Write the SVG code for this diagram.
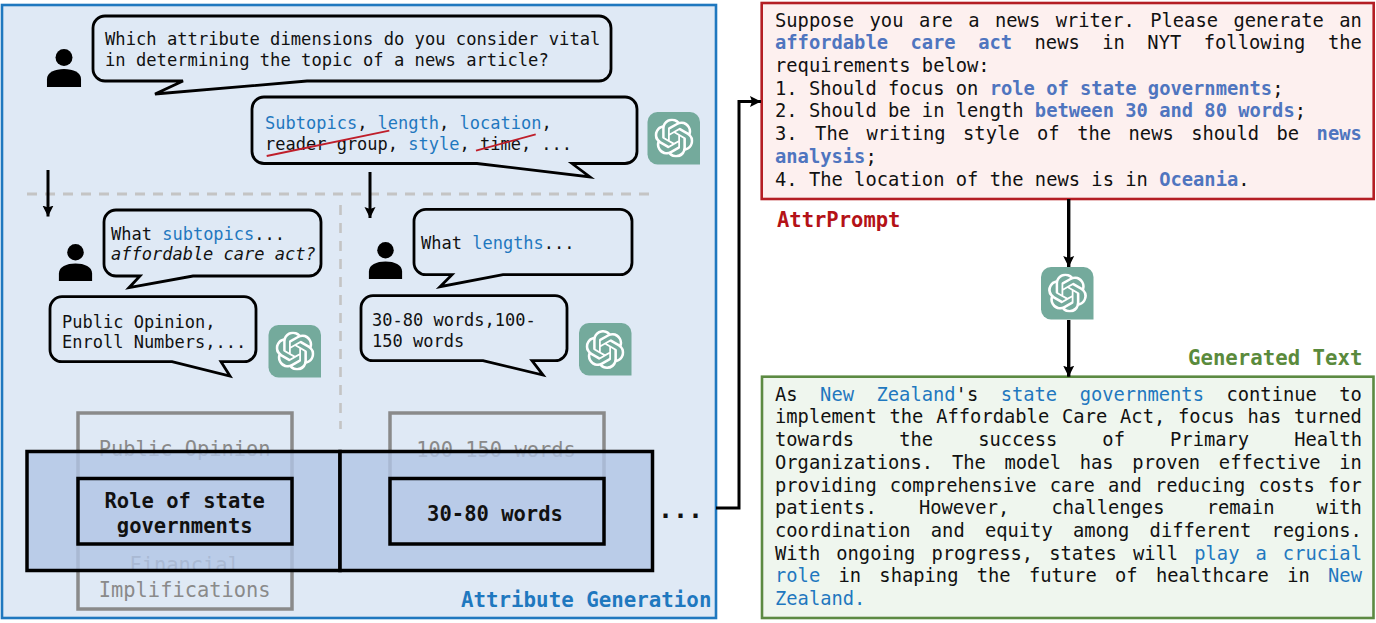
<svg xmlns="http://www.w3.org/2000/svg" width="1376" height="623" viewBox="0 0 1376 623">
<style>
text{font-family:"DejaVu Sans Mono","Liberation Mono",monospace;fill:#111;white-space:pre}
.s{font-size:17px}.l{font-size:17.15px}.m{font-size:18.77px}
.big{font-size:20.5px;font-weight:bold}
.g{font-size:20.4px;fill:#8a8a8a}
.b{fill:#1f78bf}.p{fill:#4f75bf;font-weight:bold}
.bub{fill:#dfe9f5;stroke:#000;stroke-width:2.8;stroke-linejoin:miter}
.ic{fill:#74aa9c}
.gr{fill:none;stroke:#8a8a8a;stroke-width:3.5}
.bx{fill:#b0c4e5;fill-opacity:.8;stroke:#000;stroke-width:3.5}
.in{fill:#b9cbe8;stroke:#000;stroke-width:3.5}
.d{fill:none;stroke:#c4c4c4;stroke-width:3;stroke-dasharray:10 8}
.c{fill:none;stroke:#000;stroke-width:3}
.st{stroke:#bf1e2a;stroke-width:1.8;fill:none}
</style>
<defs>
<symbol id="logo" viewBox="0 0 24 24"><path fill="#fff" d="M22.2819 9.8211a5.9847 5.9847 0 0 0-.5157-4.9108 6.0462 6.0462 0 0 0-6.5098-2.9A6.0651 6.0651 0 0 0 4.9807 4.1818a5.9847 5.9847 0 0 0-3.9977 2.9 6.0462 6.0462 0 0 0 .7427 7.0966 5.98 5.98 0 0 0 .511 4.9107 6.051 6.051 0 0 0 6.5146 2.9001A5.9847 5.9847 0 0 0 13.2599 24a6.0557 6.0557 0 0 0 5.7718-4.2058 5.9894 5.9894 0 0 0 3.9977-2.9001 6.0557 6.0557 0 0 0-.7475-7.0729zm-9.022 12.6081a4.4755 4.4755 0 0 1-2.8764-1.0408l.1419-.0804 4.7783-2.7582a.7948.7948 0 0 0 .3927-.6813v-6.7369l2.02 1.1686a.071.071 0 0 1 .038.052v5.5826a4.504 4.504 0 0 1-4.4945 4.4944zm-9.6607-4.1254a4.4708 4.4708 0 0 1-.5346-3.0137l.142.0852 4.783 2.7582a.7712.7712 0 0 0 .7806 0l5.8428-3.3685v2.3324a.0804.0804 0 0 1-.0332.0615L9.74 19.9502a4.4992 4.4992 0 0 1-6.1408-1.6464zM2.3408 7.8956a4.485 4.485 0 0 1 2.3655-1.9728V11.6a.7664.7664 0 0 0 .3879.6765l5.8144 3.3543-2.0201 1.1685a.0757.0757 0 0 1-.071 0l-4.8303-2.7865A4.504 4.504 0 0 1 2.3408 7.872zm16.5963 3.8558L13.1038 8.364 15.1192 7.2a.0757.0757 0 0 1 .071 0l4.8303 2.7913a4.4944 4.4944 0 0 1-.6765 8.1042v-5.6772a.79.79 0 0 0-.407-.667zm2.0107-3.0231l-.142-.0852-4.7735-2.7818a.7759.7759 0 0 0-.7854 0L9.409 9.2297V6.8974a.0662.0662 0 0 1 .0284-.0615l4.8303-2.7866a4.4992 4.4992 0 0 1 6.6802 4.66zM8.3065 12.863l-2.02-1.1638a.0804.0804 0 0 1-.038-.0567V6.0742a4.4992 4.4992 0 0 1 7.3757-3.4537l-.142.0805L8.704 5.459a.7948.7948 0 0 0-.3927.6813zm1.0976-2.3654l2.602-1.4998 2.6069 1.4998v2.9994l-2.5974 1.4997-2.6067-1.4997Z"/></symbol>
<symbol id="person" viewBox="0 0 35 39"><circle cx="17.5" cy="8.7" r="8.7"/><path d="M0 39V31C0 24 8 20.5 17.5 20.5S35 24 35 31V39Z"/></symbol>
<path id="gptbg" class="ic" d="M10 0H42.5A10 10 0 0 1 52.500 10V52.500H10A10 10 0 0 1 0 42.500V10A10 10 0 0 1 10 0Z"/>
<marker id="ah" markerUnits="userSpaceOnUse" markerWidth="12" markerHeight="12" refX="11" refY="6" orient="auto"><path d="M0 0.500L11 6L0 11.500L2 6Z"/></marker>
</defs>

<g id="attribute-panel"><rect x="2" y="5" width="714" height="613" fill="#dfe9f5" stroke="#1f78bf" stroke-width="2.600"/></g>
<g id="separators">
<path class="d" d="M27 194H655"/>
<path class="d" d="M340.500 205V429" style="stroke-width:2.600"/>
</g>

<g id="bubble-question"><path class="bub" d="M105 16H599A12 12 0 0 1 611 28V69A12 12 0 0 1 599 81H307L155 94L183 81H105A12 12 0 0 1 93 69V28A12 12 0 0 1 105 16Z"/>
<text class="l" x="105" y="44.700">Which attribute dimensions do you consider vital</text>
<text class="l" x="105" y="65.700">in determining the topic of a news article?</text></g>

<g id="bubble-attributes"><path class="bub" d="M264 97H625A12 12 0 0 1 637 109V151.500A12 12 0 0 1 625 163.500H572L590 177L477 163.500H264A12 12 0 0 1 252 151.500V109A12 12 0 0 1 264 97Z"/>
<text class="s" x="265" y="129"><tspan class="b">Subtopics</tspan>, <tspan class="b">length</tspan>, <tspan class="b">location</tspan>,</text>
<text class="s" x="265" y="150">reader group, <tspan class="b">style</tspan>, time, ...</text>
<path class="st" d="M266.700 156L389.300 130.700"/><path class="st" d="M476 150.700L535.700 134.300"/></g>

<g id="bubble-subtopics"><path class="bub" d="M116 210H309A12 12 0 0 1 321 222V264A12 12 0 0 1 309 276H193L129 287.700L140 276H116A12 12 0 0 1 104 264V222A12 12 0 0 1 116 210Z"/>
<text class="s" x="111" y="240">What <tspan class="b">subtopics</tspan>...</text>
<text class="s" x="111" y="260" font-style="italic">affordable care act?</text></g>

<g id="bubble-public"><path class="bub" d="M62 296.700H244A12 12 0 0 1 256 308.700V349.700A12 12 0 0 1 244 361.700H221L230 376L172 361.700H62A12 12 0 0 1 50 349.700V308.700A12 12 0 0 1 62 296.700Z"/>
<text class="s" x="62" y="327.700">Public Opinion,</text>
<text class="s" x="62" y="348.300">Enroll Numbers,...</text></g>

<g id="bubble-lengths"><path class="bub" d="M426 209.300H620A12 12 0 0 1 632 221.300V262.700A12 12 0 0 1 620 274.700H503L440 286.700L452 274.700H426A12 12 0 0 1 414 262.700V221.300A12 12 0 0 1 426 209.300Z"/>
<text class="s" x="421" y="249.300">What <tspan class="b">lengths</tspan>...</text></g>

<g id="bubble-words"><path class="bub" d="M373 295.700H555A12 12 0 0 1 567 307.700V348.700A12 12 0 0 1 555 360.700H532L543 375L483 360.700H373A12 12 0 0 1 361 348.700V307.700A12 12 0 0 1 373 295.700Z"/>
<text class="s" x="372" y="326">30-80 words,100-</text>
<text class="s" x="372" y="346.700">150 words</text></g>

<g id="person-1"><use href="#person" x="46.500" y="49" width="35" height="38"/></g>
<g id="person-2"><use href="#person" x="58" y="244" width="35" height="37"/></g>
<g id="person-3"><use href="#person" x="368" y="242" width="35" height="37"/></g>

<g id="gpt-1"><use href="#gptbg" x="647.500" y="112"/><use href="#logo" x="654.500" y="118.500" width="39" height="39"/></g>
<g id="gpt-2"><use href="#gptbg" x="268.500" y="325"/><use href="#logo" x="275.500" y="331.500" width="39" height="39"/></g>
<g id="gpt-3"><use href="#gptbg" x="579" y="323"/><use href="#logo" x="585.500" y="330" width="39" height="39"/></g>
<g id="gpt-4"><use href="#gptbg" x="1041" y="267"/><use href="#logo" x="1048" y="273.500" width="39" height="39"/></g>

<g id="option-stack-1">
<rect class="gr" x="78" y="413" width="214" height="196"/>
<text class="g" x="184.700" y="456" text-anchor="middle">Public Opinion</text>
<text class="g" x="184.700" y="571.500" text-anchor="middle">Financial</text>
<text class="g" x="184.700" y="597" text-anchor="middle">Implifications</text>
</g>
<g id="option-stack-2">
<rect class="gr" x="390" y="413" width="214" height="100"/>
<text class="g" x="496" y="456.500" text-anchor="middle">100-150 words</text>
</g>
<g id="attr-box-1">
<rect class="bx" x="27" y="451.500" width="313" height="119"/>
<rect class="in" x="78" y="478.500" width="214" height="65.500"/>
<text class="big" x="184.700" y="507.500" text-anchor="middle">Role of state</text>
<text class="big" x="184.700" y="532.800" text-anchor="middle">governments</text>
</g>
<g id="attr-box-2">
<rect class="bx" x="340" y="451.500" width="312.500" height="119"/>
<rect class="in" x="390" y="478.500" width="214" height="65.500"/>
<text class="big" x="495" y="520.500" text-anchor="middle">30-80 words</text>
</g>
<text x="658" y="518" style="font-size:25px;font-weight:bold">...</text>
<text class="big" x="461" y="607" style="fill:#1f78bf;font-size:20.8px">Attribute Generation</text>

<g id="attr-prompt">
<rect x="761.700" y="3" width="612" height="196" fill="#fdf0ef" stroke="#b41e24" stroke-width="2.600"/>
<text class="m" x="775" y="26.500" word-spacing="4.160">Suppose you are a news writer. Please generate an</text>
<text class="m" x="775" y="49.200" word-spacing="11.200"><tspan class="p">affordable care act</tspan> news in NYT following the</text>
<text class="m" x="775" y="72">requirements below:</text>
<text class="m" x="775" y="94.700">1. Should focus on <tspan class="p">role of state governments</tspan>;</text>
<text class="m" x="775" y="117.400">2. Should be in length <tspan class="p">between 30 and 80 words</tspan>;</text>
<text class="m" x="775" y="140.200" word-spacing="6.200">3. The writing style of the news should be <tspan class="p">news</tspan></text>
<text class="m" x="775" y="162.900"><tspan class="p">analysis</tspan>;</text>
<text class="m" x="775" y="185.600">4. The location of the news is in <tspan class="p">Oceania</tspan>.</text>
</g>
<text class="big" x="777" y="227" style="fill:#b41217">AttrPrompt</text>
<text class="big" x="1188" y="364.500" style="fill:#5a8a3c;font-size:20.7px">Generated Text</text>

<g id="generated-text">
<rect x="762" y="376.700" width="611.500" height="241.300" fill="#eff6ee" stroke="#5c8a42" stroke-width="2.600"/>
<text class="m" x="775" y="400.700" word-spacing="11.200">As <tspan class="b">New Zealand</tspan>'s <tspan class="b">state governments</tspan> continue to</text>
<text class="m" x="775" y="423.400" word-spacing="1.530">implement the Affordable Care Act, focus has turned</text>
<text class="m" x="775" y="446.100" word-spacing="33.800">towards the success of Primary Health</text>
<text class="m" x="775" y="468.800" word-spacing="7.430">Organizations. The model has proven effective in</text>
<text class="m" x="775" y="491.500" word-spacing="1.780">providing comprehensive care and reducing costs for</text>
<text class="m" x="775" y="514.200" word-spacing="30.900">patients. However, challenges remain with</text>
<text class="m" x="775" y="536.900" word-spacing="8.920">coordination and equity among different regions.</text>
<text class="m" x="775" y="559.600" word-spacing="4.760">With ongoing progress, states will <tspan class="b">play a crucial</tspan></text>
<text class="m" x="775" y="582.300" word-spacing="6.990"><tspan class="b">role</tspan> in shaping the future of healthcare in <tspan class="b">New</tspan></text>
<text class="m" x="775" y="605"><tspan class="b">Zealand.</tspan></text>
</g>

<g id="connectors">
<path class="c" d="M48 170V216.500" marker-end="url(#ah)"/>
<path class="c" d="M370 172V218" marker-end="url(#ah)"/>
<path class="c" d="M716 508H739V101.500H761" marker-end="url(#ah)"/>
<path class="c" d="M1068.700 199V267" style="stroke-width:3.400" marker-end="url(#ah)"/>
<path class="c" d="M1068.700 320V376.700" style="stroke-width:3.400" marker-end="url(#ah)"/>
</g>
</svg>
